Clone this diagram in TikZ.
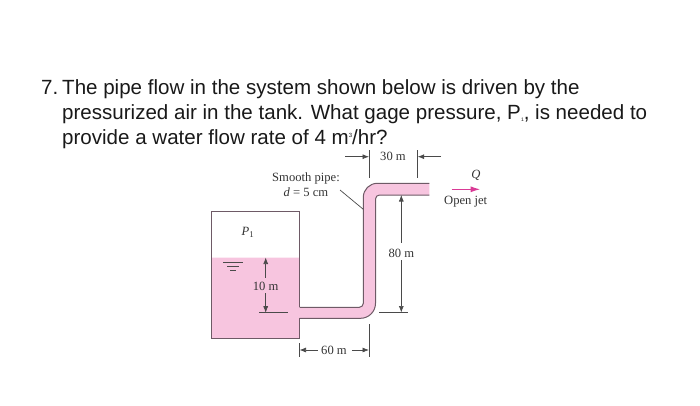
\documentclass[tikz,border=0pt]{standalone}
\usepackage{fontspec}
\setmainfont{Liberation Serif}
\newfontfamily\questionfont{Liberation Sans}
\usepackage{xcolor}
\usetikzlibrary{arrows.meta,positioning,calc}
\definecolor{waterpink}{HTML}{F7C5DF}
\definecolor{wallgray}{HTML}{6E5A66}
\definecolor{jetpink}{HTML}{DA3A96}
\definecolor{dimgray}{HTML}{4A4A4A}
\tikzset{
    question/.style={anchor=base west,inner sep=0pt,font=\questionfont\fontsize{20.55}{24}\selectfont,text=black!90},
    dimlabel/.style={inner sep=0pt,font=\fontsize{12.6}{14}\selectfont,text=black!80},
    dimline/.style={draw=dimgray,line width=0.7pt},
    dimarrow/.style={dimline,-{Latex[length=6.5pt,width=5pt]}},
    wall/.style={draw=wallgray,line width=1pt}
}
\begin{document}
\begin{tikzpicture}[x=1pt,y=-1pt]
            \useasboundingbox (0,0) rectangle (700,405);
            % tank corners and pipe
            \def\tl{211.7}
            \def\tr{299.5}
            \def\pl{363.3}
            \def\pr{375.5}

            % water in the tank and the pipe
            \fill[waterpink] (\tl,257.5) -- (\tr,257.5) -- (\tr,307.3)
                [rounded corners=4pt] -- (\pl,307.3)
                [rounded corners=14pt] -- (\pl,183.3)
                [sharp corners] -- (429.3,183.3) -- (429.3,195)
                [rounded corners=4pt] -- (\pr,195)
                [rounded corners=15pt] -- (\pr,318.3)
                [sharp corners] -- (\tr,318.3) -- (\tr,338.3) -- (\tl,338.3) -- cycle;

            % tank wall
            \draw[wall] (\tr,307.3) -- (\tr,211) -- (\tl,211) -- (\tl,338.3) -- (\tr,338.3) -- (\tr,318.3);
            % pipe walls
            \draw[wall,rounded corners=4pt] (\tr,307.3) -- (\pl,307.3)
                [rounded corners=14pt] -- (\pl,183.3) -- (429.3,183.3);
            \draw[wall,rounded corners=4pt] (429.3,195) -- (\pr,195)
                [rounded corners=15pt] -- (\pr,318.3) -- (\tr,318.3);

            % free surface mark
            \foreach \y/\a/\b in {262.3/223/243,266.7/227/239,270.7/230/236}
            \draw[dimline] (\a,\y) -- (\b,\y);

            % question text
            \node[question] (number) at (41,94.5) {7.};
            \node[question] (line1) at (62,94.5) {The pipe flow in the system shown below is driven by the};
            \node[question] (line2) at (62,119.5) {pressurized air in the tank. What gage pressure, P\raisebox{-2pt}{\fontsize{5}{5}\selectfont 1}, is needed to};
            \node[question] (line3) at (62,144.5) {provide a water flow rate of 4 m\raisebox{7pt}{\fontsize{6}{6}\selectfont 3}/hr?};

            % labels
            \node[dimlabel] (pone) at (248,232) {\textit{P}\textsubscript{1}};
            \node[dimlabel,align=center] (smooth) at (306,184.5) {Smooth pipe:\\[0.5pt]\textit{d} = 5 cm};
            \node[dimlabel] (len30) at (393,156) {30 m};
            \node[dimlabel] (flowq) at (476,175) {\textit{Q}};
            \node[dimlabel] (jet) at (465.7,202) {Open jet};
            \node[dimlabel] (len80) at (401.3,253) {80 m};
            \node[dimlabel] (len60) at (334,350) {60 m};
            \node[dimlabel] (len10) at (265.7,286) {10 m};

            % leader to the pipe
            \coordinate (leadfrom) at (340,190);
            \coordinate (leadto) at (\pl,209.3);
            \draw[dimline] (leadfrom) -- (leadto);

            % 30 m
            \coordinate (a30) at (369,156.7);
            \coordinate (b30) at (417.7,156.7);
            \coordinate (c30) at (345,156.7);
            \coordinate (d30) at (441,156.7);
            \draw[dimline] (369,150) -- (369,178);
            \draw[dimline] (417.7,150) -- (417.7,178);
            \draw[dimarrow] (c30) -- (a30);
            \draw[dimarrow] (d30) -- (b30);

            % 80 m
            \coordinate (top80) at (401.3,195);
            \coordinate (bot80) at (401.3,312.5);
            \draw[dimarrow,shorten <=6pt] (len80) -- (top80);
            \draw[dimarrow,shorten <=3pt] (len80) -- (bot80);
            \draw[dimline] (379,312.5) -- (408,312.5);

            % 60 m
            \coordinate (left60) at (\tr,350);
            \coordinate (right60) at (369,350);
            \draw[dimarrow,shorten <=3.5pt] (len60) -- (left60);
            \draw[dimarrow,shorten <=5pt] (len60) -- (right60);
            \draw[dimline] (\tr,343) -- (\tr,357);
            \draw[dimline] (369,324) -- (369,357);

            % 10 m
            \coordinate (top10) at (265.7,257.5);
            \coordinate (bot10) at (265.7,312.7);
            \draw[dimarrow,shorten <=4pt] (len10) -- (top10);
            \draw[dimarrow,shorten <=3pt] (len10) -- (bot10);
            \draw[dimline] (259,312.7) -- (288,312.7);

            % jet arrow
            \coordinate (jetfrom) at (451.7,189.3);
            \coordinate (jetto) at (480.7,189.3);
            \draw[jetpink,line width=1.6pt,-{Latex[length=10pt,width=6pt]}] (jetfrom) -- (jetto);
\end{tikzpicture}
\end{document}
